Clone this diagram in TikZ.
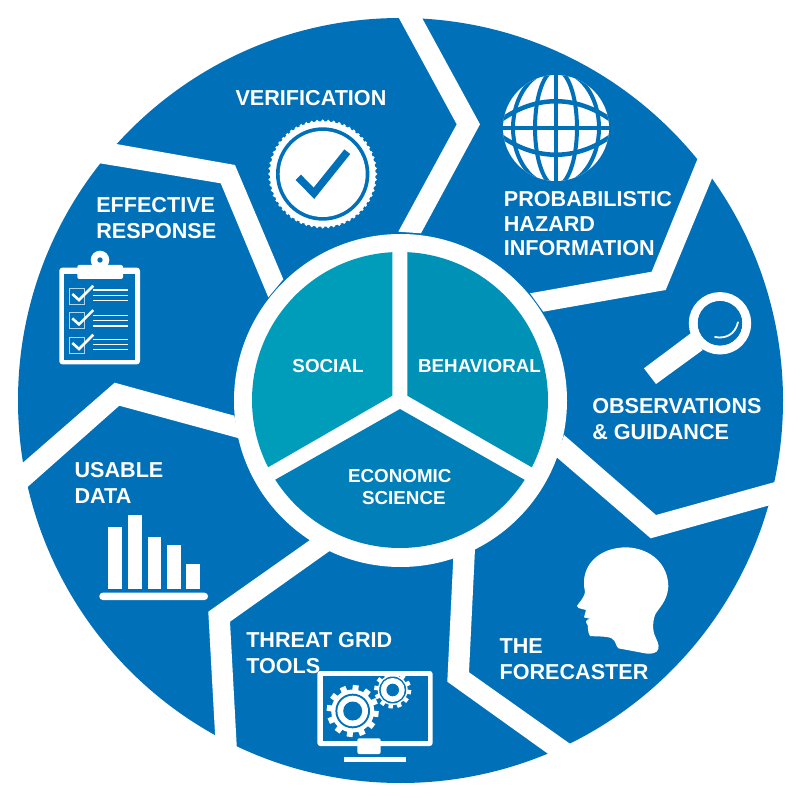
\documentclass[tikz,border=0pt]{standalone}
\usepackage{fontspec}
\setmainfont{Liberation Sans}
\definecolor{wheelblue}{RGB}{0,112,184}
\definecolor{socialc}{RGB}{0,157,187}
\definecolor{behavc}{RGB}{0,145,182}
\definecolor{econc}{RGB}{0,127,184}
\def\px{0.75pt}
\tikzset{
  label16/.style={text=white,font=\fontsize{16.2}{19.5}\selectfont\bfseries,align=left,inner sep=0pt,anchor=base west},
  label16tight/.style={label16,font=\fontsize{16.2}{18.3}\selectfont\bfseries},
  label14/.style={text=white,font=\fontsize{14.1}{17}\selectfont\bfseries,inner sep=0pt,anchor=base west},
  gap/.style={fill=white,draw=none},
  iconline/.style={draw=white,line cap=butt}
}
\newcommand{\gearicon}[8]{% cx cy toothR rootR ringOuter ringInner hole toothWidth
  \begin{scope}[shift={(#1,#2)}]
    \fill[white] (0,0) circle (#4);
    \foreach \a in {0,30,...,330}{\draw[white,line width=#8*\px] (\a+7:#4-1) -- (\a+7:#3);}
    \fill[wheelblue] (0,0) circle (#5);
    \fill[white] (0,0) circle (#6);
    \fill[wheelblue] (0,0) circle (#7);
  \end{scope}}
\begin{document}
\begin{tikzpicture}[x=0.75pt,y=-0.75pt]
\useasboundingbox (0,0) rectangle (800,798);
\fill[white] (0,0) rectangle (800,798);
% outer wheel
\fill[wheelblue] (400.5,400.5) circle (382.5);
% separators
\begin{scope}
\clip (400.5,400.5) circle (384);
\fill[gap] (391.8,5)--(456.7,124.3)--(398.3,231.7)--(421,233.3)--(480,124.3)--(415,5)--cycle;
\fill[gap] (80,137.6)--(235,165)--(283.3,279.3)--(268.3,297.3)--(220.7,183.3)--(80,160)--cycle;
\fill[gap] (0,482.6)--(114.7,382.7)--(234.3,415.7)--(239,438.3)--(119.3,405.7)--(0,511.4)--cycle;
\fill[gap] (310,540)--(208.3,611.7)--(218.1,790)--(239.1,790)--(230,621.7)--(330,550.7)--cycle;
\fill[gap] (453.3,557.7)--(447.3,681.7)--(600,791)--(600,765)--(469,672.3)--(475,549)--cycle;
\fill[gap] (564,435)--(656,515)--(810,472.3)--(810,494)--(650.7,538.3)--(556.7,457.3)--cycle;
\fill[gap] (713.3,120)--(651.7,271.7)--(530,293.3)--(543.3,311.7)--(665.7,290)--(736.3,120)--cycle;
\end{scope}
% hub
\fill[white] (400.5,400.5) circle (166.5);
\begin{scope}
\clip (392.3,200)--(392.3,395.7)--(200,506.5)--(100,200)--cycle;
\fill[socialc] (400,400) circle (148);
\end{scope}
\begin{scope}
\clip (407.3,200)--(407.3,395.7)--(600,506.5)--(700,200)--cycle;
\fill[behavc] (400,400) circle (148);
\end{scope}
\begin{scope}
\clip (400,409)--(200,522.4)--(200,700)--(600,700)--(600,522.7)--cycle;
\fill[econc] (400,400) circle (148);
\end{scope}
% text
\node[label14] (social) at (292.2,372.2) {SOCIAL};
\node[label14] (behav) at (417.8,372.2) {BEHAVIORAL};
\node[label14] (econ1) at (347.8,482.2) {ECONOMIC};
\node[label14] (econ2) at (361.8,504.8) {SCIENCE};
\node[label16] (verif) at (235.3,105.5) {VERIFICATION};
\node[label16] (effective) at (96,238.2) {EFFECTIVE\\RESPONSE};
\node[label16tight] (phi) at (503.6,255.5) {PROBABILISTIC\\HAZARD\\INFORMATION};
\node[label16] (obs) at (592,439.8) {OBSERVATIONS\\\& GUIDANCE};
\node[label16] (usable) at (74.3,503.8) {USABLE\\DATA};
\node[label16] (threat) at (246,673.2) {THREAT GRID\\TOOLS};
\node[label16] (forecaster) at (499.3,679.8) {THE\\FORECASTER};
% verification badge
\begin{scope}[shift={(322.7,174)}]
\fill[white] (0,0) circle (52.8);
\foreach \a in {0,6,...,354}{\fill[white] (\a:52.8) circle (1.8);}
\fill[wheelblue] (0,0) circle (46.7);
\fill[white] (0,0) circle (43);
\end{scope}
\draw[wheelblue,line width=7.5*\px] (298.3,177.3)--(314,193.3)--(347.3,151.7);
% globe
\begin{scope}[shift={(556,128)}]
\begin{scope}
\clip (0,0) circle (53);
\fill[white] (-60,-60) rectangle (60,60);
\draw[wheelblue,line width=4*\px] (0,-60)--(0,60);
\draw[wheelblue,line width=4.5*\px] (-60,0)--(60,0);
\draw[wheelblue,line width=4*\px] (0,0) ellipse (21 and 58);
\draw[wheelblue,line width=4*\px] (0,0) ellipse (43 and 58);
\draw[wheelblue,line width=4.5*\px] (-55,-8) .. controls (-20,-33) and (20,-33) .. (55,-8);
\draw[wheelblue,line width=4.5*\px] (-55,8) .. controls (-20,33) and (20,33) .. (55,8);
\end{scope}
\end{scope}
% magnifier
\fill[white] (644,368.3)--(656,384)--(702.7,350)--(690.7,333.3)--cycle;
\draw[white,line width=9*\px] (720,323.3) circle (26.7);
\fill[wheelblue] (720,323.3) circle (22.2);
\draw[white,line width=1.8*\px,line cap=round] (738,322.3) .. controls (735,335) and (725,339) .. (715,337);
% clipboard
\fill[white] (100,260) circle (9.3);
\fill[white,rounded corners=3*\px] (59.3,267.7) rectangle (140,364.3);
\fill[wheelblue] (64,274) rectangle (135.3,359.7);
\fill[white,rounded corners=2*\px] (77.3,265) rectangle (123,279);
\fill[wheelblue] (100,260) circle (2.7);
\foreach \yb/\ya/\yc/\yd in {288.3/290/295.3/300.7,312.7/315.3/320.7/326,337.3/339.3/344.3/349.3}{
  \draw[white!70!wheelblue,line width=1*\px] (69,\yb) rectangle (84.3,\yb+16);
  \draw[white,line width=2.6*\px] (72.3,\yb+5.7)--(79,\yb+11.7)--(93.3,\yb-2.6);
  \draw[white,line width=1.4*\px] (93.3,\ya)--(127.7,\ya);
  \draw[white,line width=1.4*\px] (93.3,\yc)--(127.7,\yc);
  \draw[white,line width=1.4*\px] (93.3,\yd)--(127.7,\yd);
}
% bars
\fill[white] (108.3,527.3) rectangle (121.7,589.3);
\fill[white] (128.3,515) rectangle (141.7,589.3);
\fill[white] (147.7,536.7) rectangle (161.3,589.3);
\fill[white] (167.3,545) rectangle (181,589.3);
\fill[white] (186.3,564) rectangle (200,589.3);
\fill[white,rounded corners=3.5*\px] (99.3,592.7) rectangle (208,600);
% monitor
\fill[white,rounded corners=3*\px] (317.3,671) rectangle (432.7,746);
\fill[wheelblue] (322.7,676) rectangle (428,740.7);
\fill[white,rounded corners=2*\px] (357.3,738.3) rectangle (380.7,754);
\fill[white] (344,757.3) rectangle (406,762.3);
\gearicon{352.7}{711}{26}{21.5}{17.3}{15.3}{9.5}{6}
\gearicon{392.7}{690}{18.5}{15}{13.5}{12}{6.3}{4.4}
% head
\begin{scope}[shift={(560,530)},scale=0.3333]
\fill[white] (72,150) .. controls (78,90) and (130,52) .. (200,52)
  .. controls (275,55) and (325,105) .. (325,170)
  .. controls (322,215) and (295,235) .. (285,255)
  .. controls (275,285) and (280,310) .. (288,325)
  .. controls (296,340) and (300,355) .. (290,365)
  .. controls (280,372) and (265,372) .. (255,370)
  -- (175,355)
  .. controls (165,345) and (170,335) .. (155,325)
  .. controls (140,318) and (110,320) .. (90,318)
  .. controls (82,305) and (85,295) .. (83,285)
  .. controls (78,280) and (72,268) .. (92,267)
  -- (72,262)
  .. controls (72,255) and (78,248) .. (78,240)
  -- (55,234)
  .. controls (50,230) and (50,225) .. (55,222)
  .. controls (65,210) and (75,195) .. (75,185)
  .. controls (72,170) and (71,160) .. (72,150) -- cycle;
\end{scope}
\end{tikzpicture}
\end{document}
